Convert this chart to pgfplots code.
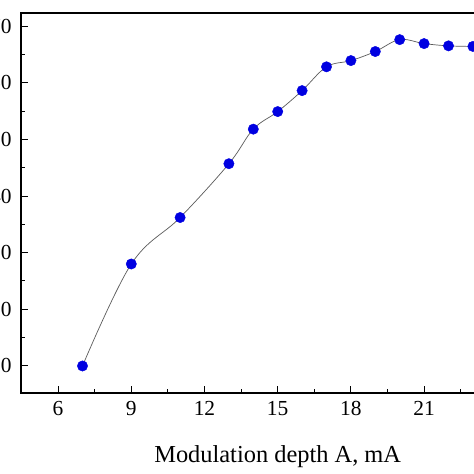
\documentclass[border=0pt]{standalone}
\usepackage{pgfplots}
\pgfplotsset{compat=1.18}
\usepackage{fontspec}
\setmainfont{Liberation Serif}
\definecolor{mk}{RGB}{0,0,225}
\definecolor{ln}{RGB}{90,90,90}
\begin{document}
\begin{tikzpicture}
\useasboundingbox (-21bp,-81bp) rectangle (453bp,393bp);
\clip (-21bp,-81bp) rectangle (453bp,393bp);
\begin{axis}[
  at={(0bp,0bp)}, anchor=south west,
  scale only axis, width=513.4bp, height=380bp,
  xmin=4.48, xmax=25.52, ymin=5.23, ymax=72.3,
  xtick={6,9,...,24}, ytick={10,20,...,70},
  minor tick num=1,
  xtick pos=bottom, ytick pos=left,
  tick align=inside,
  major tick length=7bp, minor tick length=4bp,
  every tick/.style={black, line width=1bp},
  axis line style={line width=2bp},
  /pgf/number format/assume math mode=true,
  tick label style={font=\fontsize{21.5}{24}\selectfont},
  xticklabel style={yshift=-5bp},
  yticklabel style={xshift=-6bp},
  xlabel={Modulation depth A, mA},
  xlabel style={font=\fontsize{24.5}{28}\selectfont, at={(axis description cs:0.5,0)}, anchor=base, yshift=-69bp},
  clip=false,
]
\addplot[ln, line width=0.7bp, smooth, tension=0.6] coordinates {
(7,10.0) (9,28.0) (11,36.2) (13,45.7) (14,51.8) (15,54.9) (16,58.6) (17,62.8) (18,63.9) (19,65.5) (20,67.6) (21,66.9) (22,66.5) (23,66.4)
};
\addplot[only marks, mark=*, mark size=5.2bp, mark options={fill=mk, draw=mk}] coordinates {
(7,10.0) (9,28.0) (11,36.2) (13,45.7) (14,51.8) (15,54.9) (16,58.6) (17,62.8) (18,63.9) (19,65.5) (20,67.6) (21,66.9) (22,66.5) (23,66.4)
};
\end{axis}
\end{tikzpicture}
\end{document}
